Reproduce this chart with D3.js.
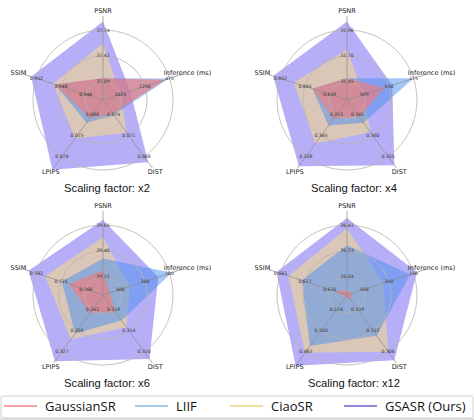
<!DOCTYPE html>
<html>
<head>
<meta charset="utf-8">
<script src="https://cdn.jsdelivr.net/npm/d3@7"></script>
<style>
  body { margin: 0; background: #fff; }
</style>
</head>
<body>
<div id="chart"></div>
<script>
const axisNames = ["PSNR", "Inference (ms)", "DIST", "LPIPS", "SSIM"];
const methods = ["GaussianSR", "LIIF", "CiaoSR", "GSASR (Ours)"];
const panelTitles = ["Scaling factor: x2", "Scaling factor: x4", "Scaling factor: x6", "Scaling factor: x12"];
const gridLevels = [0.26, 0.63, 1.0];

// tick labels per axis (inner, middle, outer ring)
const ticksX2 = [["37.09", "37.42", "37.74"], ["2025", "1250", "475"], ["0.074", "0.071", "0.068"], ["0.080", "0.075", "0.070"], ["0.946", "0.948", "0.952"]];
const ticksX4 = [["31.45", "31.70", "31.96"], ["929", "550", "175"], ["0.365", "0.360", "0.355"], ["0.353", "0.345", "0.338"], ["0.839", "0.845", "0.852"]];
const ticksX6 = [["29.15", "29.40", "29.65"], ["500", "300", "100"], ["0.319", "0.314", "0.310"], ["0.343", "0.335", "0.327"], ["0.768", "0.775", "0.782"]];
const ticksX12 = [["26.04", "26.23", "26.41"], ["550", "350", "150"], ["0.319", "0.312", "0.306"], ["0.518", "0.500", "0.483"], ["0.670", "0.677", "0.683"]];

// normalised radius per axis (PSNR, Inference, DIST, LPIPS, SSIM), one row per method
const valuesX2 = [
  [0.31, 0.94, 0.24, 0.32, 0.72],
  [0.31, 0.99, 0.26, 0.40, 0.72],
  [0.81, 0.26, 0.58, 0.68, 0.75],
  [1.12, 0.41, 1.10, 1.23, 1.08]
];
const valuesX4 = [
  [0.31, 0.56, 0.30, 0.33, 0.52],
  [0.31, 1.00, 0.40, 0.45, 0.52],
  [0.72, 0.25, 0.57, 0.77, 0.80],
  [1.12, 0.68, 1.15, 1.17, 1.11]
];
const valuesX6 = [
  [0.35, 0.10, 0.30, 0.32, 0.51],
  [0.52, 1.03, 0.45, 0.68, 0.62],
  [0.83, 0.40, 0.57, 0.78, 0.87],
  [1.07, 0.83, 1.13, 1.17, 1.12]
];
const valuesX12 = [
  [0.06, 0.08, 0.08, 0.03, 0.20],
  [0.71, 0.95, 0.72, 0.90, 0.68],
  [0.95, 0.55, 1.00, 1.02, 0.88],
  [1.10, 1.05, 1.15, 1.25, 1.06]
];

const fillColors = ["#f27a7a", "#4a90f0", "#ffe07a", "#7a6cf0"];
const fillOpacity = [0.65, 0.5, 0.5, 0.55];
const legendColors = ["#f4a3a3", "#a6cde3", "#efe0a0", "#9189dd"];

const panels = [
  { title: panelTitles[0], ticks: ticksX2, values: valuesX2 },
  { title: panelTitles[1], ticks: ticksX4, values: valuesX4 },
  { title: panelTitles[2], ticks: ticksX6, values: valuesX6 },
  { title: panelTitles[3], ticks: ticksX12, values: valuesX12 }
];

const width = 474, height = 420, R = 70;
const centers = [[103, 100], [347, 100], [103, 295], [347, 295]];
const titlePos = [[107, 192], [354, 192], [107, 387], [354, 387]];

const svg = d3.select("#chart")
  .append("svg")
  .attr("width", width)
  .attr("height", height);

const rScale = d3.scaleLinear().domain([0, 1]).range([0, R]);
const angle = d3.scaleLinear().domain([0, axisNames.length]).range([0, 2 * Math.PI]);
const point = (i, v) => [Math.sin(angle(i)) * rScale(v), -Math.cos(angle(i)) * rScale(v)];

const radarLine = d3.lineRadial()
  .angle((d, i) => angle(i))
  .radius(d => rScale(d))
  .curve(d3.curveLinearClosed);

panels.forEach((p, k) => {
  const g = svg.append("g")
    .attr("transform", "translate(" + centers[k][0] + "," + centers[k][1] + ")");

  // polygons, GSASR at the bottom
  const order = d3.range(methods.length).reverse();
  g.selectAll(".area")
    .data(order)
    .join("path")
    .attr("class", "area")
    .attr("d", m => radarLine(p.values[m]))
    .attr("fill", m => fillColors[m])
    .attr("fill-opacity", m => fillOpacity[m])
    .attr("stroke", "none");

  g.selectAll(".ring")
    .data(gridLevels)
    .join("circle")
    .attr("class", "ring")
    .attr("r", d => rScale(d))
    .attr("fill", "none")
    .attr("stroke", "#b9b3ad")
    .attr("stroke-width", 0.8);

  g.selectAll(".spoke")
    .data(axisNames)
    .join("line")
    .attr("class", "spoke")
    .attr("x1", 0).attr("y1", 0)
    .attr("x2", (d, i) => point(i, 1.2)[0])
    .attr("y2", (d, i) => point(i, 1.2)[1])
    .attr("stroke", "#8d8d8d")
    .attr("stroke-width", 0.7);

  g.selectAll(".axis-label")
    .data(axisNames)
    .join("text")
    .attr("class", "axis-label")
    .attr("x", (d, i) => point(i, 1.27)[0])
    .attr("y", (d, i) => point(i, 1.27)[1])
    .attr("text-anchor", "middle")
    .attr("dominant-baseline", "central")
    .style("font-family", "DejaVu Sans")
    .style("font-size", "6.5px")
    .style("fill", "#222")
    .text(d => d);

  axisNames.forEach((a, i) => {
    g.selectAll(".tick-" + i)
      .data(p.ticks[i])
      .join("text")
      .attr("class", "tick-" + i)
      .attr("x", (d, j) => point(i, gridLevels[j])[0])
      .attr("y", (d, j) => point(i, gridLevels[j])[1])
      .attr("text-anchor", "middle")
      .attr("dominant-baseline", "central")
      .style("font-family", "DejaVu Sans")
      .style("font-size", "4.6px")
      .style("fill", "#333")
      .text(d => d);
  });

  svg.append("text")
    .attr("x", titlePos[k][0])
    .attr("y", titlePos[k][1])
    .attr("text-anchor", "middle")
    .style("font-family", "Liberation Sans, Arial, sans-serif")
    .style("font-size", "11.2px")
    .style("fill", "#111")
    .text(p.title);
});

// legend
svg.append("rect")
  .attr("x", 0).attr("y", 418)
  .attr("width", width).attr("height", 2)
  .attr("fill", "#e2e2e2");

svg.append("rect")
  .attr("x", 1).attr("y", 396)
  .attr("width", width - 2).attr("height", 22)
  .attr("rx", 2)
  .attr("fill", "#fff")
  .attr("stroke", "#c4c4c4")
  .attr("stroke-width", 0.8);

const legendX = [4, 135, 230, 344];
const legend = svg.selectAll(".legend")
  .data(methods)
  .join("g")
  .attr("class", "legend")
  .attr("transform", (d, i) => "translate(" + legendX[i] + ",406)");

legend.append("line")
  .attr("x1", 0).attr("x2", 33)
  .attr("y1", 0).attr("y2", 0)
  .attr("stroke", (d, i) => legendColors[i])
  .attr("stroke-width", 2);

legend.append("text")
  .attr("x", 41)
  .attr("y", 5)
  .style("font-family", "Open Sans")
  .style("font-size", "13px")
  .style("fill", "#111")
  .text(d => d);
</script>
</body>
</html>
